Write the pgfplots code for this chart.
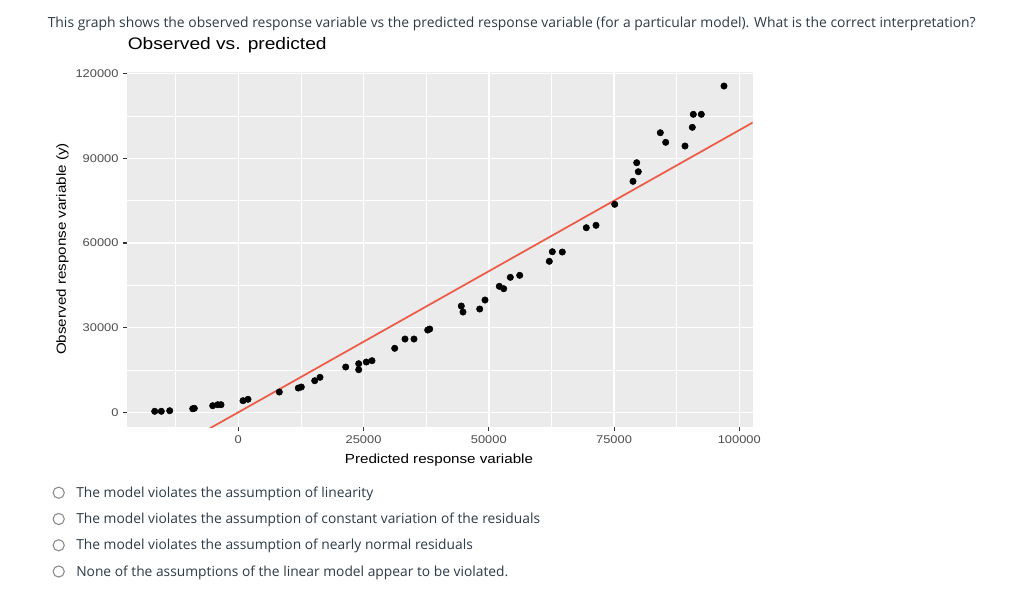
\documentclass[border=0pt]{standalone}
\usepackage{pgfplots}
\pgfplotsset{compat=1.18}
\usepackage{fontspec}
\setmainfont{Open Sans}
\newfontfamily\chartfont[FakeStretch=1.15]{Liberation Sans}
\definecolor{panelgray}{HTML}{EBEBEB}
\definecolor{ticklab}{HTML}{4D4D4D}
\definecolor{tickcol}{HTML}{333333}
\definecolor{fitred}{HTML}{EE5A45}
\definecolor{qtext}{HTML}{2D3B45}
\definecolor{radio}{HTML}{8A8A8A}
\pgfplotstableread{
x y
-16687 354
-15369 354
-13693 567
-9102 1276
-8782 1417
-5110 2339
-4112 2693
-3453 2693
938 4111
1936 4607
8184 7194
11976 8611
12575 8966
15250 11198
16307 12403
21437 16053
24032 17222
24032 15096
25549 17824
26687 18285
31218 22679
33273 25975
35070 25975
37804 29164
38204 29518
44511 37668
44850 35542
48184 36605
49242 39794
52096 44649
52974 43799
54291 47838
56168 48547
62076 53508
62675 56910
64671 56804
69461 65415
71397 66265
75130 73707
78782 81857
79840 85259
79521 88448
84232 99079
85309 95677
89162 94366
90619 100992
90818 105599
92415 105599
96946 115627
}\obsdata
\begin{document}
\begin{tikzpicture}
\begin{scope}[x=0.75pt,y=-0.75pt]
\path[fill=white,use as bounding box] (0,0) rectangle (1024,612);
\node[anchor=base west, inner sep=0, text=qtext, font=\fontsize{10.43pt}{12pt}\selectfont] at (47.5,27.5) {This graph shows the observed response variable vs the predicted response variable (for a particular model). What is the correct interpretation?};
\node[anchor=base west, inner sep=0, font=\chartfont\fontsize{12.5pt}{15pt}\selectfont] at (127.5,49) {Observed vs. predicted};
\node[anchor=base, inner sep=0, font=\chartfont\fontsize{9.9pt}{12pt}\selectfont] at (439,463.5) {Predicted response variable};
\node[rotate=90, inner sep=0, font=\chartfont\fontsize{9.9pt}{12pt}\selectfont] at (62.5,249) {Observed response variable (y)};
\foreach \yy/\txt in {492.7/{The model violates the assumption of linearity},
                      519/{The model violates the assumption of constant variation of the residuals},
                      545.3/{The model violates the assumption of nearly normal residuals},
                      571.5/{None of the assumptions of the linear model appear to be violated.}}{
  \draw[radio, line width=0.8pt, fill=white] (58.7,\yy) circle[radius=5.6];
  \node[anchor=base west, inner sep=0, text=qtext, font=\fontsize{10.35pt}{12pt}\selectfont] at (76,\yy+4.5) {\txt};
}
\end{scope}
\begin{axis}[
  at={(95.025pt,-320.475pt)}, anchor=south west,
  scale only axis, width=469.5pt, height=266.7pt,
  xmin=-22275, xmax=102675, ymin=-5315, ymax=120700,
  axis background/.style={fill=panelgray},
  axis line style={draw=none},
  tick pos=left,
  scaled ticks=false,
  xtick={0,25000,50000,75000,100000},
  xticklabels={0,25000,50000,75000,100000},
  ytick={0,30000,60000,90000,120000},
  yticklabels={0,30000,60000,90000,120000},
  minor xtick={-12500,12500,37500,62500,87500},
  minor ytick={15000,45000,75000,105000},
  grid=both,
  major grid style={white, line width=1.1pt},
  minor grid style={white, line width=0.55pt},
  tick align=outside,
  major tick length=2.6pt,
  minor tick length=0pt,
  major tick style={tickcol, line width=0.8pt},
  tick label style={font=\chartfont\fontsize{8.4pt}{10pt}\selectfont, text=ticklab},
]
\addplot[fitred, line width=1.3pt] coordinates {(-30000,-30000) (130000,130000)};
\addplot[only marks, mark=*, mark size=2.4pt, black] table {\obsdata};
\end{axis}
\end{tikzpicture}
\end{document}
